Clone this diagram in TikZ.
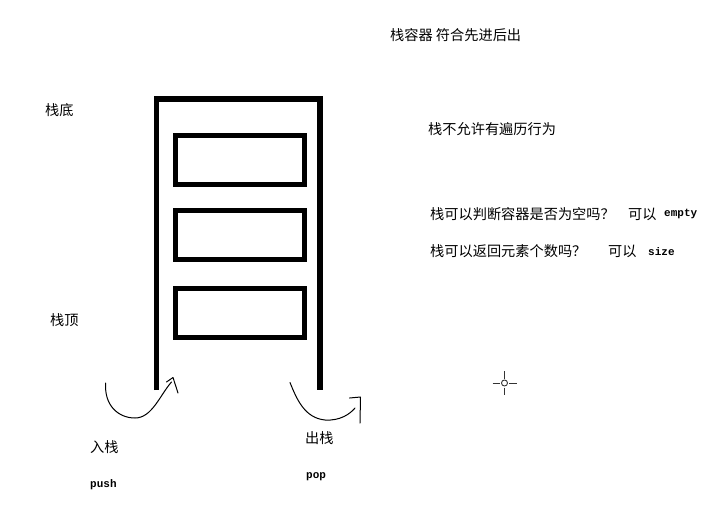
\documentclass[tikz,border=0pt]{standalone}
\usepackage{fontspec}
\newfontfamily\cjk{Noto Sans CJK SC}
\newfontfamily\mono{Liberation Mono}
\begin{document}
\begin{tikzpicture}[x=1pt,y=-1pt,
  wall/.style={line width=5.5pt,line cap=butt,line join=miter},
  slot/.style={draw,line width=5pt},
  hand/.style={line width=1pt,line cap=round,line join=round},
  zh/.style={inner sep=0pt,anchor=west,font=\cjk\fontsize{14.2}{16}\selectfont},
  en/.style={inner sep=0pt,anchor=west,font=\mono\bfseries\fontsize{11}{13}\selectfont}]
\useasboundingbox[fill=white] (0,0) rectangle (715,514);
% container
\draw[wall] (156.7,390) -- (156.7,99) -- (320,99) -- (320,390);
\node[slot,minimum width=129pt,minimum height=49.5pt,inner sep=0pt] (b1) at (240,159.8) {};
\node[slot,minimum width=129pt,minimum height=49pt,inner sep=0pt] (b2) at (240,235) {};
\node[slot,minimum width=129pt,minimum height=48.5pt,inner sep=0pt] (b3) at (240,312.8) {};
% labels
\node[zh] (bottom) at (45,110) {栈底};
\node[zh] (top) at (50,320) {栈顶};
\node[zh] (title) at (390,35) {栈容器 符合先进后出};
\node[zh] (l1) at (428,129) {栈不允许有遍历行为};
\node[zh] (l2a) at (430,214) {栈可以判断容器是否为空吗？};
\node[zh] (l2b) at (628,214) {可以};
\node[en] (l2c) at (664,214) {empty};
\node[zh] (l3a) at (430,251.5) {栈可以返回元素个数吗？};
\node[zh] (l3b) at (608,251.5) {可以};
\node[en] (l3c) at (648,251.5) {size};
\node[zh] (in) at (90,447) {入栈};
\node[en] (push) at (90,485) {push};
\node[zh] (out) at (305,438) {出栈};
\node[en] (pop) at (306,477) {pop};
% push curve
\coordinate (ps) at (105.7,383);
\coordinate (pe) at (171.5,382);
\draw[hand] (ps) .. controls (104,405) and (118,418) .. (135,418)
  .. controls (152,418) and (160,395) .. (pe);
\draw[hand] (166.5,382) -- (173,377.5) -- (178,393);
% pop curve
\coordinate (qs) at (290,382.5);
\coordinate (qe) at (355,408);
\draw[hand] (qs) .. controls (297,400) and (305,418) .. (325,420)
  .. controls (340,421) and (350,414) .. (qe);
\draw[hand] (349.5,398) -- (360.5,397) -- (360,423);
% crosshair
\coordinate (cc) at (504.5,383);
\draw[line width=0.9pt,black!80] (cc) circle (3pt);
\draw[line width=0.9pt,black!80] (492.5,383) -- (500,383) (509,383) -- (516.5,383)
  (504.5,371) -- (504.5,378.5) (504.5,387.5) -- (504.5,395);
\end{tikzpicture}
\end{document}
